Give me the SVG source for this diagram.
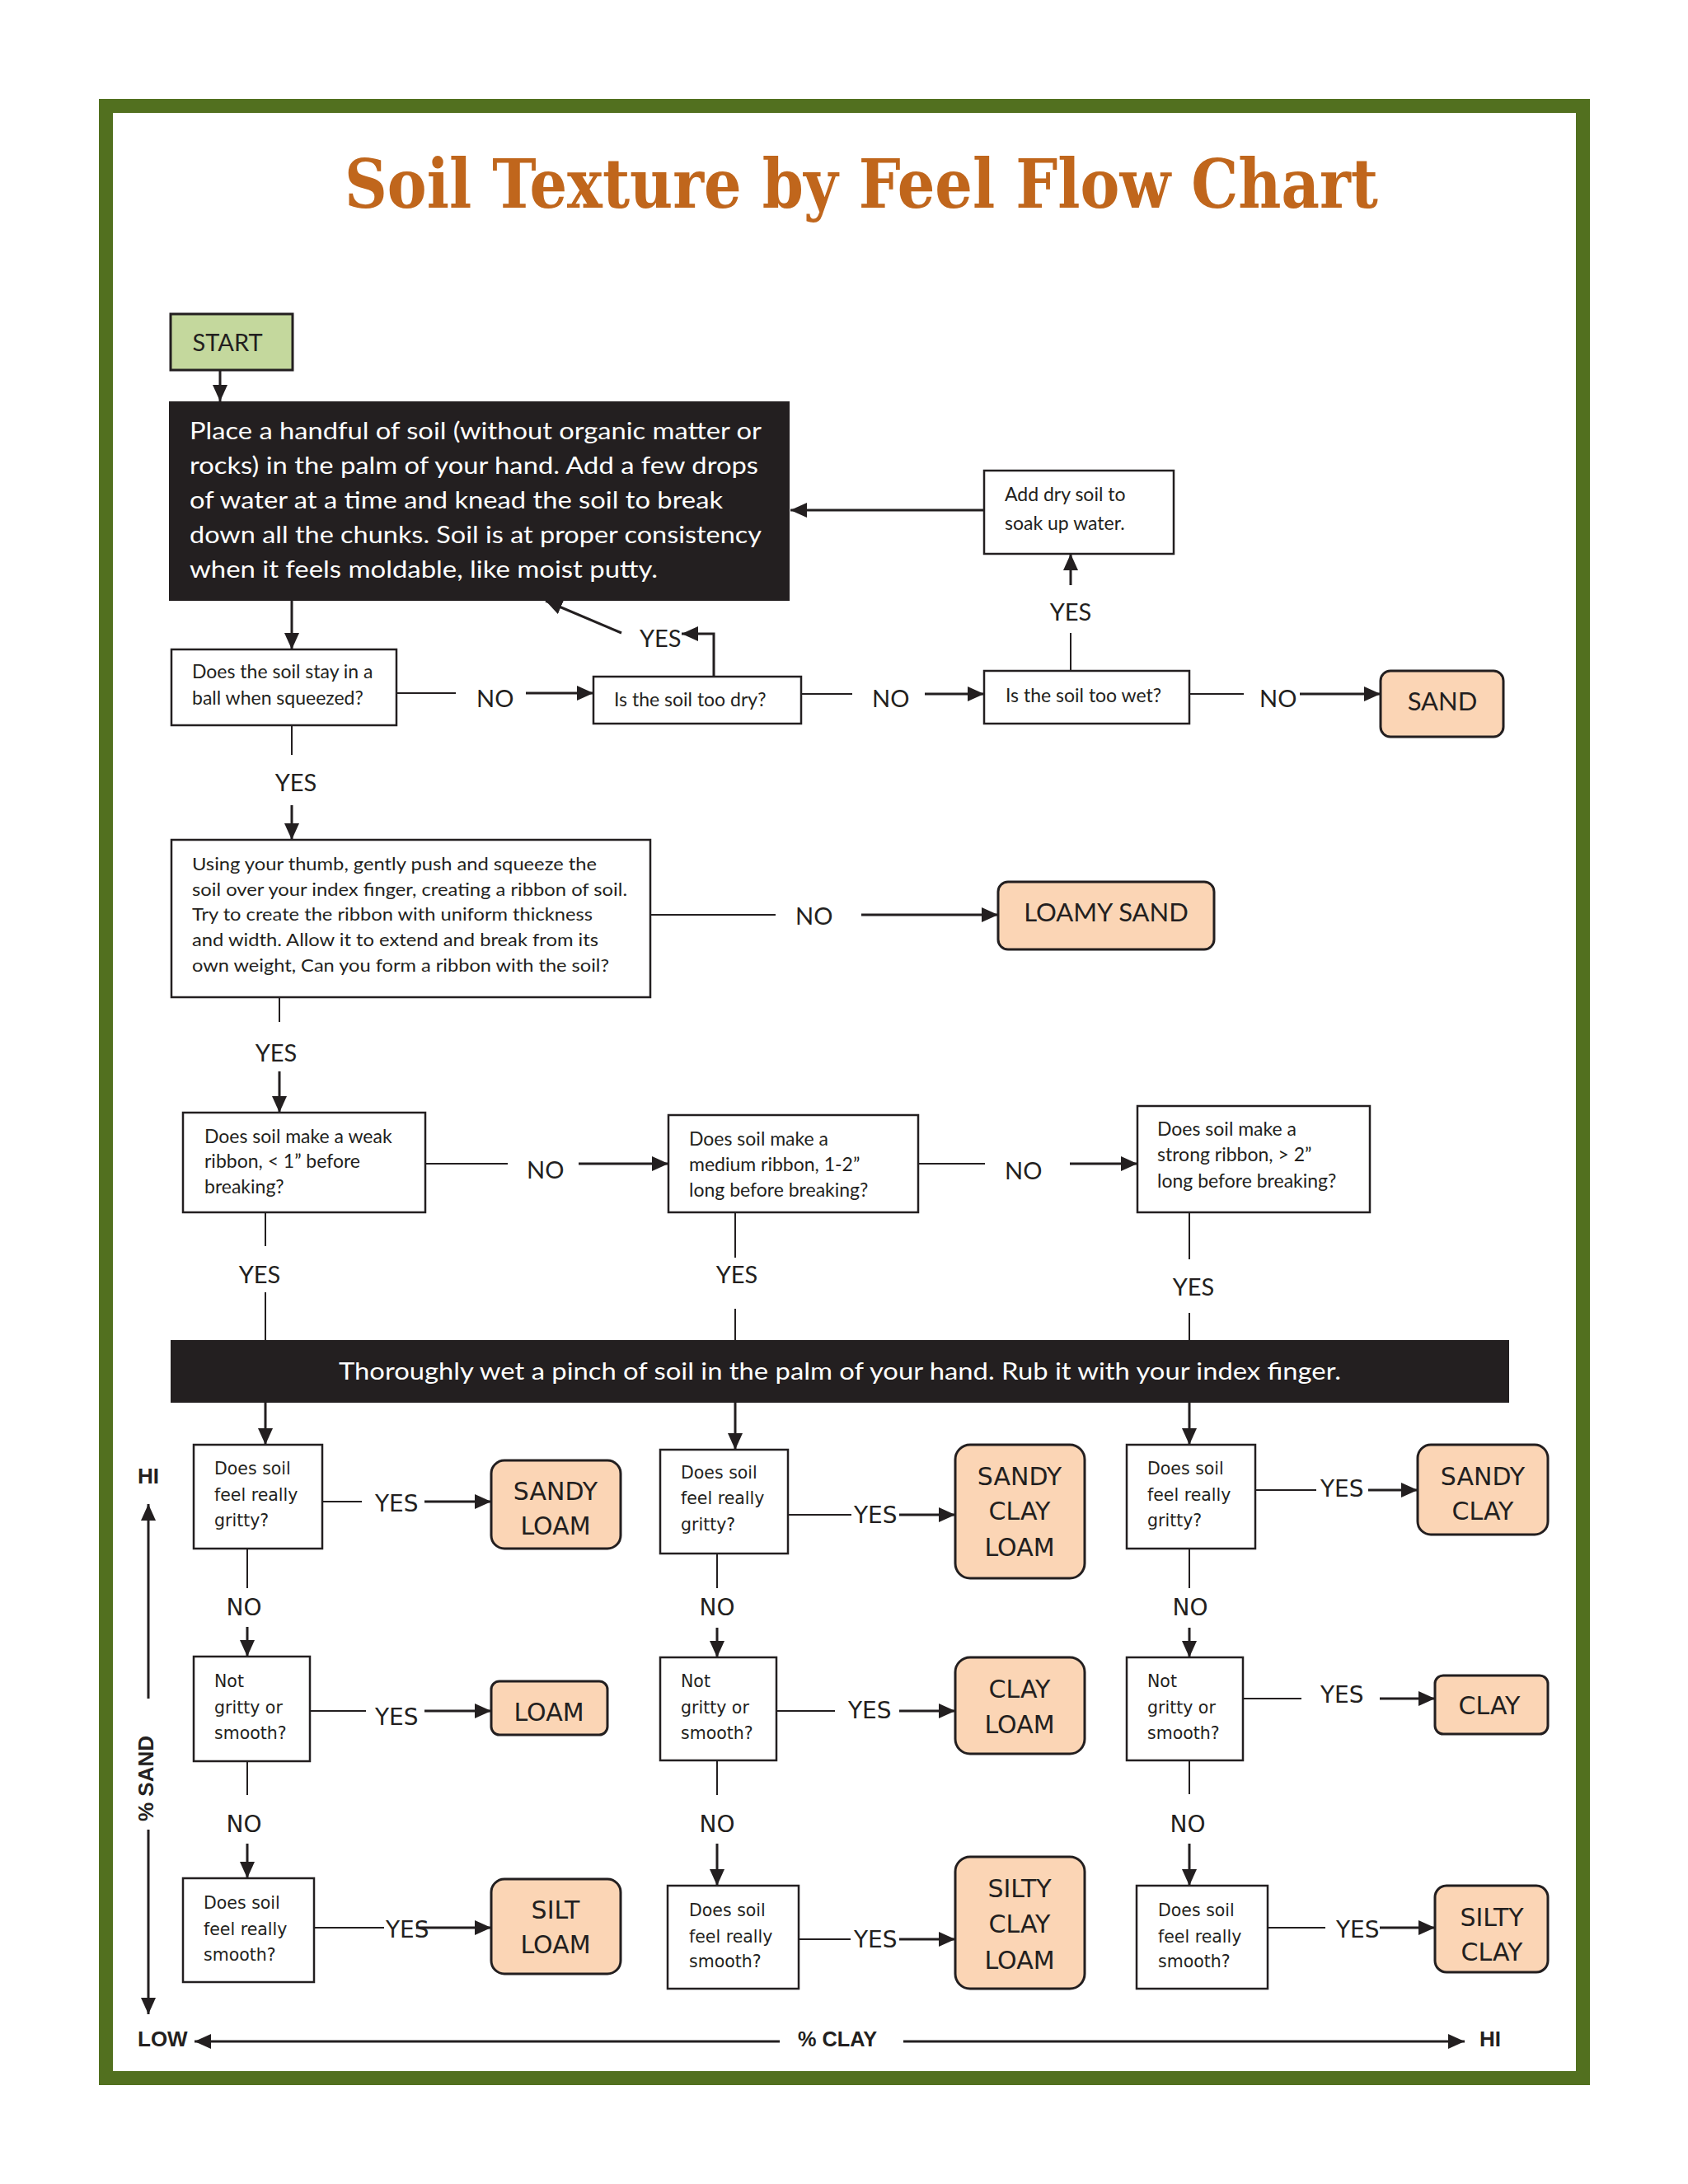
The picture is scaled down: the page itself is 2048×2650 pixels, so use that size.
<svg xmlns="http://www.w3.org/2000/svg" width="2048" height="2650" viewBox="0 0 2048 2650">
<defs>
<marker id="ah" markerWidth="20" markerHeight="18" refX="20" refY="9" orient="auto" markerUnits="userSpaceOnUse"><path d="M0,0 L20,9 L0,18 z" fill="#231f20"/></marker>
<style>
.box{fill:#fff;stroke:#231f20;stroke-width:2.5}
.res{fill:#fbd5b5;stroke:#231f20;stroke-width:3}
.ln{stroke:#231f20;stroke-width:2;fill:none}
.ar{stroke:#231f20;stroke-width:3;fill:none;marker-end:url(#ah)}
.ax{stroke:#231f20;stroke-width:3;fill:none;marker-end:url(#ah)}
.t{font-family:Lato,"Liberation Sans",sans-serif;font-size:23px;fill:#231f20}
.tr{font-family:Lato,"Liberation Sans",sans-serif;font-size:22px;fill:#231f20}
.tw{font-family:Lato,"Liberation Sans",sans-serif;font-size:29px;fill:#fff}
.lb{font-family:Lato,"Liberation Sans",sans-serif;font-size:29px;fill:#231f20}
.rt{font-family:Lato,"Liberation Sans",sans-serif;font-size:31px;fill:#231f20;text-anchor:middle}
.g{font-family:"DejaVu Sans",sans-serif;font-size:20.5px;fill:#231f20}
.gl{font-family:"DejaVu Sans",sans-serif;font-size:28px;fill:#231f20}
.gr{font-family:"DejaVu Sans",sans-serif;font-size:30px;fill:#231f20;text-anchor:middle}
.axt{font-family:"Liberation Sans",Arial,sans-serif;font-weight:bold;font-size:26px;fill:#231f20}
.mid{text-anchor:middle}
</style>
</defs>
<rect x="128.5" y="128.5" width="1792" height="2393" fill="#fff" stroke="#52701f" stroke-width="17"/>
<text x="1045" y="252" text-anchor="middle" font-family="DejaVu Serif,serif" font-weight="bold" font-size="82" fill="#c0661c" textLength="1254" lengthAdjust="spacingAndGlyphs">Soil Texture by Feel Flow Chart</text>

<g id="connectors">
<line class="ar" x1="267" y1="449" x2="267" y2="487"/>
<line class="ar" x1="1194" y1="619" x2="959" y2="619"/>
<line class="ln" x1="1299" y1="814" x2="1299" y2="768"/>
<text class="lb mid" x="1299" y="753">YES</text>
<line class="ar" x1="1299" y1="710" x2="1299" y2="672"/>
<line class="ln" x1="972" y1="842" x2="1034" y2="842"/>
<text class="lb" x="1058" y="858">NO</text>
<line class="ar" x1="1122" y1="842" x2="1194" y2="842"/>
<line class="ln" x1="1443" y1="842" x2="1509" y2="842"/>
<text class="lb" x="1528" y="858">NO</text>
<line class="ar" x1="1577" y1="842" x2="1675" y2="842"/>
<line class="ar" x1="354" y1="729" x2="354" y2="788"/>
<line class="ln" x1="481" y1="841" x2="553" y2="841"/>
<text class="lb" x="578" y="858">NO</text>
<line class="ar" x1="638" y1="841" x2="720" y2="841"/>
<polyline class="ar" points="866,821 866,769 827,769"/>
<text class="lb" x="776" y="785">YES</text>
<line class="ar" x1="754" y1="768" x2="662" y2="729"/>
<line class="ln" x1="354" y1="880" x2="354" y2="916"/>
<text class="lb mid" x="359" y="960">YES</text>
<line class="ar" x1="354" y1="977" x2="354" y2="1019"/>
<line class="ln" x1="789" y1="1110" x2="941" y2="1110"/>
<text class="lb" x="965" y="1122">NO</text>
<line class="ar" x1="1045" y1="1110" x2="1211" y2="1110"/>
<line class="ln" x1="339" y1="1210" x2="339" y2="1240"/>
<text class="lb mid" x="335" y="1288">YES</text>
<line class="ar" x1="339" y1="1300" x2="339" y2="1350"/>
<line class="ln" x1="516" y1="1412" x2="616" y2="1412"/>
<text class="lb" x="639" y="1430">NO</text>
<line class="ar" x1="702" y1="1412" x2="811" y2="1412"/>
<line class="ln" x1="1114" y1="1412" x2="1195" y2="1412"/>
<text class="lb" x="1219" y="1431">NO</text>
<line class="ar" x1="1298" y1="1412" x2="1380" y2="1412"/>
<line class="ln" x1="322" y1="1471" x2="322" y2="1512"/>
<text class="lb mid" x="315" y="1557">YES</text>
<line class="ln" x1="322" y1="1568" x2="322" y2="1626"/>
<line class="ln" x1="892" y1="1471" x2="892" y2="1526"/>
<text class="lb mid" x="894" y="1557">YES</text>
<line class="ln" x1="892" y1="1588" x2="892" y2="1626"/>
<line class="ln" x1="1443" y1="1471" x2="1443" y2="1528"/>
<text class="lb mid" x="1448" y="1572">YES</text>
<line class="ln" x1="1443" y1="1593" x2="1443" y2="1626"/>
<line class="ar" x1="322" y1="1702" x2="322" y2="1753"/>
<line class="ar" x1="892" y1="1702" x2="892" y2="1759"/>
<line class="ar" x1="1443" y1="1702" x2="1443" y2="1753"/>

<line class="ln" x1="391" y1="1822" x2="439" y2="1822"/>
<text class="gl" x="455" y="1834">YES</text>
<line class="ar" x1="515" y1="1822" x2="596" y2="1822"/>
<line class="ln" x1="300" y1="1879" x2="300" y2="1927"/>
<text class="gl mid" x="296" y="1960">NO</text>
<line class="ar" x1="300" y1="1974" x2="300" y2="2010"/>
<line class="ln" x1="376" y1="2076" x2="444" y2="2076"/>
<text class="gl" x="455" y="2093">YES</text>
<line class="ar" x1="515" y1="2076" x2="596" y2="2076"/>
<line class="ln" x1="300" y1="2137" x2="300" y2="2178"/>
<text class="gl mid" x="296" y="2223">NO</text>
<line class="ar" x1="300" y1="2237" x2="300" y2="2279"/>
<line class="ln" x1="381" y1="2339" x2="466" y2="2339"/>
<text class="gl" x="468" y="2351">YES</text>
<line class="ar" x1="505" y1="2339" x2="596" y2="2339"/>

<line class="ln" x1="956" y1="1838" x2="1033" y2="1838"/>
<text class="gl" x="1036" y="1848">YES</text>
<line class="ar" x1="1091" y1="1838" x2="1159" y2="1838"/>
<line class="ln" x1="870" y1="1885" x2="870" y2="1927"/>
<text class="gl mid" x="870" y="1960">NO</text>
<line class="ar" x1="870" y1="1975" x2="870" y2="2011"/>
<line class="ln" x1="942" y1="2076" x2="1013" y2="2076"/>
<text class="gl" x="1029" y="2085">YES</text>
<line class="ar" x1="1091" y1="2076" x2="1159" y2="2076"/>
<line class="ln" x1="870" y1="2136" x2="870" y2="2178"/>
<text class="gl mid" x="870" y="2223">NO</text>
<line class="ar" x1="870" y1="2237" x2="870" y2="2288"/>
<line class="ln" x1="969" y1="2353" x2="1032" y2="2353"/>
<text class="gl" x="1036" y="2363">YES</text>
<line class="ar" x1="1091" y1="2353" x2="1159" y2="2353"/>

<line class="ln" x1="1523" y1="1808" x2="1597" y2="1808"/>
<text class="gl" x="1602" y="1816">YES</text>
<line class="ar" x1="1660" y1="1808" x2="1720" y2="1808"/>
<line class="ln" x1="1443" y1="1879" x2="1443" y2="1927"/>
<text class="gl mid" x="1444" y="1960">NO</text>
<line class="ar" x1="1443" y1="1975" x2="1443" y2="2011"/>
<line class="ln" x1="1508" y1="2061" x2="1579" y2="2061"/>
<text class="gl" x="1602" y="2066">YES</text>
<line class="ar" x1="1674" y1="2061" x2="1741" y2="2061"/>
<line class="ln" x1="1443" y1="2136" x2="1443" y2="2177"/>
<text class="gl mid" x="1441" y="2223">NO</text>
<line class="ar" x1="1443" y1="2237" x2="1443" y2="2288"/>
<line class="ln" x1="1537" y1="2339" x2="1608" y2="2339"/>
<text class="gl" x="1621" y="2351">YES</text>
<line class="ar" x1="1674" y1="2339" x2="1741" y2="2339"/>
</g>

<g id="start">
<rect x="207" y="381" width="148" height="68" fill="#c4d89d" stroke="#231f20" stroke-width="3"/>
<text class="lb mid" x="276" y="426">START</text>
</g>
<g id="step-knead">
<rect x="205" y="487" width="753" height="242" fill="#231f20"/>
<text class="tw" x="230" y="533" textLength="694" lengthAdjust="spacingAndGlyphs">Place a handful of soil (without organic matter or</text>
<text class="tw" x="230" y="575" textLength="690" lengthAdjust="spacingAndGlyphs">rocks) in the palm of your hand. Add a few drops</text>
<text class="tw" x="230" y="617" textLength="647" lengthAdjust="spacingAndGlyphs">of water at a time and knead the soil to break</text>
<text class="tw" x="230" y="659" textLength="694" lengthAdjust="spacingAndGlyphs">down all the chunks. Soil is at proper consistency</text>
<text class="tw" x="230" y="701" textLength="568" lengthAdjust="spacingAndGlyphs">when it feels moldable, like moist putty.</text>
</g>
<g id="add-dry">
<rect class="box" x="1194" y="571" width="230" height="101"/>
<text class="t" x="1219" y="608">Add dry soil to</text>
<text class="t" x="1219" y="643">soak up water.</text>
</g>
<g id="q-ball">
<rect class="box" x="208" y="788" width="273" height="92"/>
<text class="t" x="233" y="823">Does the soil stay in a</text>
<text class="t" x="233" y="855">ball when squeezed?</text>
</g>
<g id="q-dry">
<rect class="box" x="720" y="821" width="252" height="57"/>
<text class="t" x="745" y="857">Is the soil too dry?</text>
</g>
<g id="q-wet">
<rect class="box" x="1194" y="814" width="249" height="64"/>
<text class="t" x="1220" y="852">Is the soil too wet?</text>
</g>
<g id="r-sand">
<rect class="res" x="1675" y="814" width="149" height="80" rx="12"/>
<text class="rt" x="1750" y="862">SAND</text>
</g>
<g id="q-ribbon">
<rect class="box" x="208" y="1019" width="581" height="191"/>
<text class="tr" x="233" y="1056" textLength="491" lengthAdjust="spacingAndGlyphs">Using your thumb, gently push and squeeze the</text>
<text class="tr" x="233" y="1087" textLength="528" lengthAdjust="spacingAndGlyphs">soil over your index finger, creating a ribbon of soil.</text>
<text class="tr" x="233" y="1117" textLength="486" lengthAdjust="spacingAndGlyphs">Try to create the ribbon with uniform thickness</text>
<text class="tr" x="233" y="1148" textLength="493" lengthAdjust="spacingAndGlyphs">and width. Allow it to extend and break from its</text>
<text class="tr" x="233" y="1179" textLength="506" lengthAdjust="spacingAndGlyphs">own weight, Can you form a ribbon with the soil?</text>
</g>
<g id="r-loamy-sand">
<rect class="res" x="1211" y="1070" width="262" height="82" rx="12"/>
<text class="rt" x="1342" y="1118">LOAMY SAND</text>
</g>
<g id="q-weak">
<rect class="box" x="222" y="1350" width="294" height="121"/>
<text class="t" x="248" y="1387">Does soil make a weak</text>
<text class="t" x="248" y="1417">ribbon, &lt; 1” before</text>
<text class="t" x="248" y="1448">breaking?</text>
</g>
<g id="q-medium">
<rect class="box" x="811" y="1353" width="303" height="118"/>
<text class="t" x="836" y="1390">Does soil make a</text>
<text class="t" x="836" y="1421">medium ribbon, 1-2”</text>
<text class="t" x="836" y="1452">long before breaking?</text>
</g>
<g id="q-strong">
<rect class="box" x="1380" y="1342" width="282" height="129"/>
<text class="t" x="1404" y="1378">Does soil make a</text>
<text class="t" x="1404" y="1409">strong ribbon, &gt; 2”</text>
<text class="t" x="1404" y="1441">long before breaking?</text>
</g>
<g id="step-wet">
<rect x="207" y="1626" width="1624" height="76" fill="#231f20"/>
<text class="tw" x="411" y="1674" font-size="30" textLength="1216" lengthAdjust="spacingAndGlyphs">Thoroughly wet a pinch of soil in the palm of your hand. Rub it with your index finger.</text>
</g>

<g id="c1-gritty">
<rect class="box" x="235" y="1753" width="156" height="126"/>
<text class="g" x="260" y="1789">Does soil</text>
<text class="g" x="260" y="1821">feel really</text>
<text class="g" x="260" y="1852">gritty?</text>
</g>
<g id="r-sandy-loam">
<rect class="res" x="596" y="1772" width="157" height="107" rx="16"/>
<text class="gr" x="674" y="1820">SANDY</text>
<text class="gr" x="674" y="1862">LOAM</text>
</g>
<g id="c1-neither">
<rect class="box" x="235" y="2010" width="141" height="127"/>
<text class="g" x="260" y="2047">Not</text>
<text class="g" x="260" y="2079">gritty or</text>
<text class="g" x="260" y="2110">smooth?</text>
</g>
<g id="r-loam">
<rect class="res" x="596" y="2040" width="141" height="65" rx="10"/>
<text class="gr" x="666" y="2088">LOAM</text>
</g>
<g id="c1-smooth">
<rect class="box" x="222" y="2279" width="159" height="126"/>
<text class="g" x="247" y="2316">Does soil</text>
<text class="g" x="247" y="2348">feel really</text>
<text class="g" x="247" y="2379">smooth?</text>
</g>
<g id="r-silt-loam">
<rect class="res" x="596" y="2280" width="157" height="115" rx="16"/>
<text class="gr" x="674" y="2328">SILT</text>
<text class="gr" x="674" y="2370">LOAM</text>
</g>

<g id="c2-gritty">
<rect class="box" x="801" y="1759" width="155" height="126"/>
<text class="g" x="826" y="1794">Does soil</text>
<text class="g" x="826" y="1825">feel really</text>
<text class="g" x="826" y="1857">gritty?</text>
</g>
<g id="r-sandy-clay-loam">
<rect class="res" x="1159" y="1753" width="157" height="162" rx="18"/>
<text class="gr" x="1237" y="1802">SANDY</text>
<text class="gr" x="1237" y="1844">CLAY</text>
<text class="gr" x="1237" y="1888">LOAM</text>
</g>
<g id="c2-neither">
<rect class="box" x="801" y="2011" width="141" height="125"/>
<text class="g" x="826" y="2047">Not</text>
<text class="g" x="826" y="2079">gritty or</text>
<text class="g" x="826" y="2110">smooth?</text>
</g>
<g id="r-clay-loam">
<rect class="res" x="1159" y="2011" width="157" height="117" rx="18"/>
<text class="gr" x="1237" y="2060">CLAY</text>
<text class="gr" x="1237" y="2103">LOAM</text>
</g>
<g id="c2-smooth">
<rect class="box" x="810" y="2288" width="159" height="125"/>
<text class="g" x="836" y="2325">Does soil</text>
<text class="g" x="836" y="2357">feel really</text>
<text class="g" x="836" y="2387">smooth?</text>
</g>
<g id="r-silty-clay-loam">
<rect class="res" x="1159" y="2253" width="157" height="160" rx="18"/>
<text class="gr" x="1237" y="2302">SILTY</text>
<text class="gr" x="1237" y="2345">CLAY</text>
<text class="gr" x="1237" y="2389">LOAM</text>
</g>

<g id="c3-gritty">
<rect class="box" x="1367" y="1753" width="156" height="126"/>
<text class="g" x="1392" y="1789">Does soil</text>
<text class="g" x="1392" y="1821">feel really</text>
<text class="g" x="1392" y="1852">gritty?</text>
</g>
<g id="r-sandy-clay">
<rect class="res" x="1720" y="1753" width="158" height="109" rx="16"/>
<text class="gr" x="1799" y="1802">SANDY</text>
<text class="gr" x="1799" y="1844">CLAY</text>
</g>
<g id="c3-neither">
<rect class="box" x="1367" y="2011" width="141" height="125"/>
<text class="g" x="1392" y="2047">Not</text>
<text class="g" x="1392" y="2079">gritty or</text>
<text class="g" x="1392" y="2110">smooth?</text>
</g>
<g id="r-clay">
<rect class="res" x="1741" y="2033" width="137" height="71" rx="10"/>
<text class="gr" x="1807" y="2080">CLAY</text>
</g>
<g id="c3-smooth">
<rect class="box" x="1379" y="2288" width="159" height="125"/>
<text class="g" x="1405" y="2325">Does soil</text>
<text class="g" x="1405" y="2357">feel really</text>
<text class="g" x="1405" y="2387">smooth?</text>
</g>
<g id="r-silty-clay">
<rect class="res" x="1741" y="2288" width="137" height="105" rx="14"/>
<text class="gr" x="1810" y="2337">SILTY</text>
<text class="gr" x="1810" y="2379">CLAY</text>
</g>

<g id="axes">
<text class="axt" x="167" y="1800">HI</text>
<line class="ax" x1="180" y1="2061" x2="180" y2="1825"/>
<text class="axt" transform="translate(186,2158) rotate(-90)" text-anchor="middle">% SAND</text>
<line class="ax" x1="180" y1="2220" x2="180" y2="2444"/>
<text class="axt" x="167" y="2483">LOW</text>
<line class="ax" x1="946" y1="2477" x2="236" y2="2477"/>
<text class="axt" x="968" y="2483" textLength="96" lengthAdjust="spacingAndGlyphs">% CLAY</text>
<line class="ax" x1="1096" y1="2477" x2="1777" y2="2477"/>
<text class="axt" x="1795" y="2483">HI</text>
</g>
</svg>
